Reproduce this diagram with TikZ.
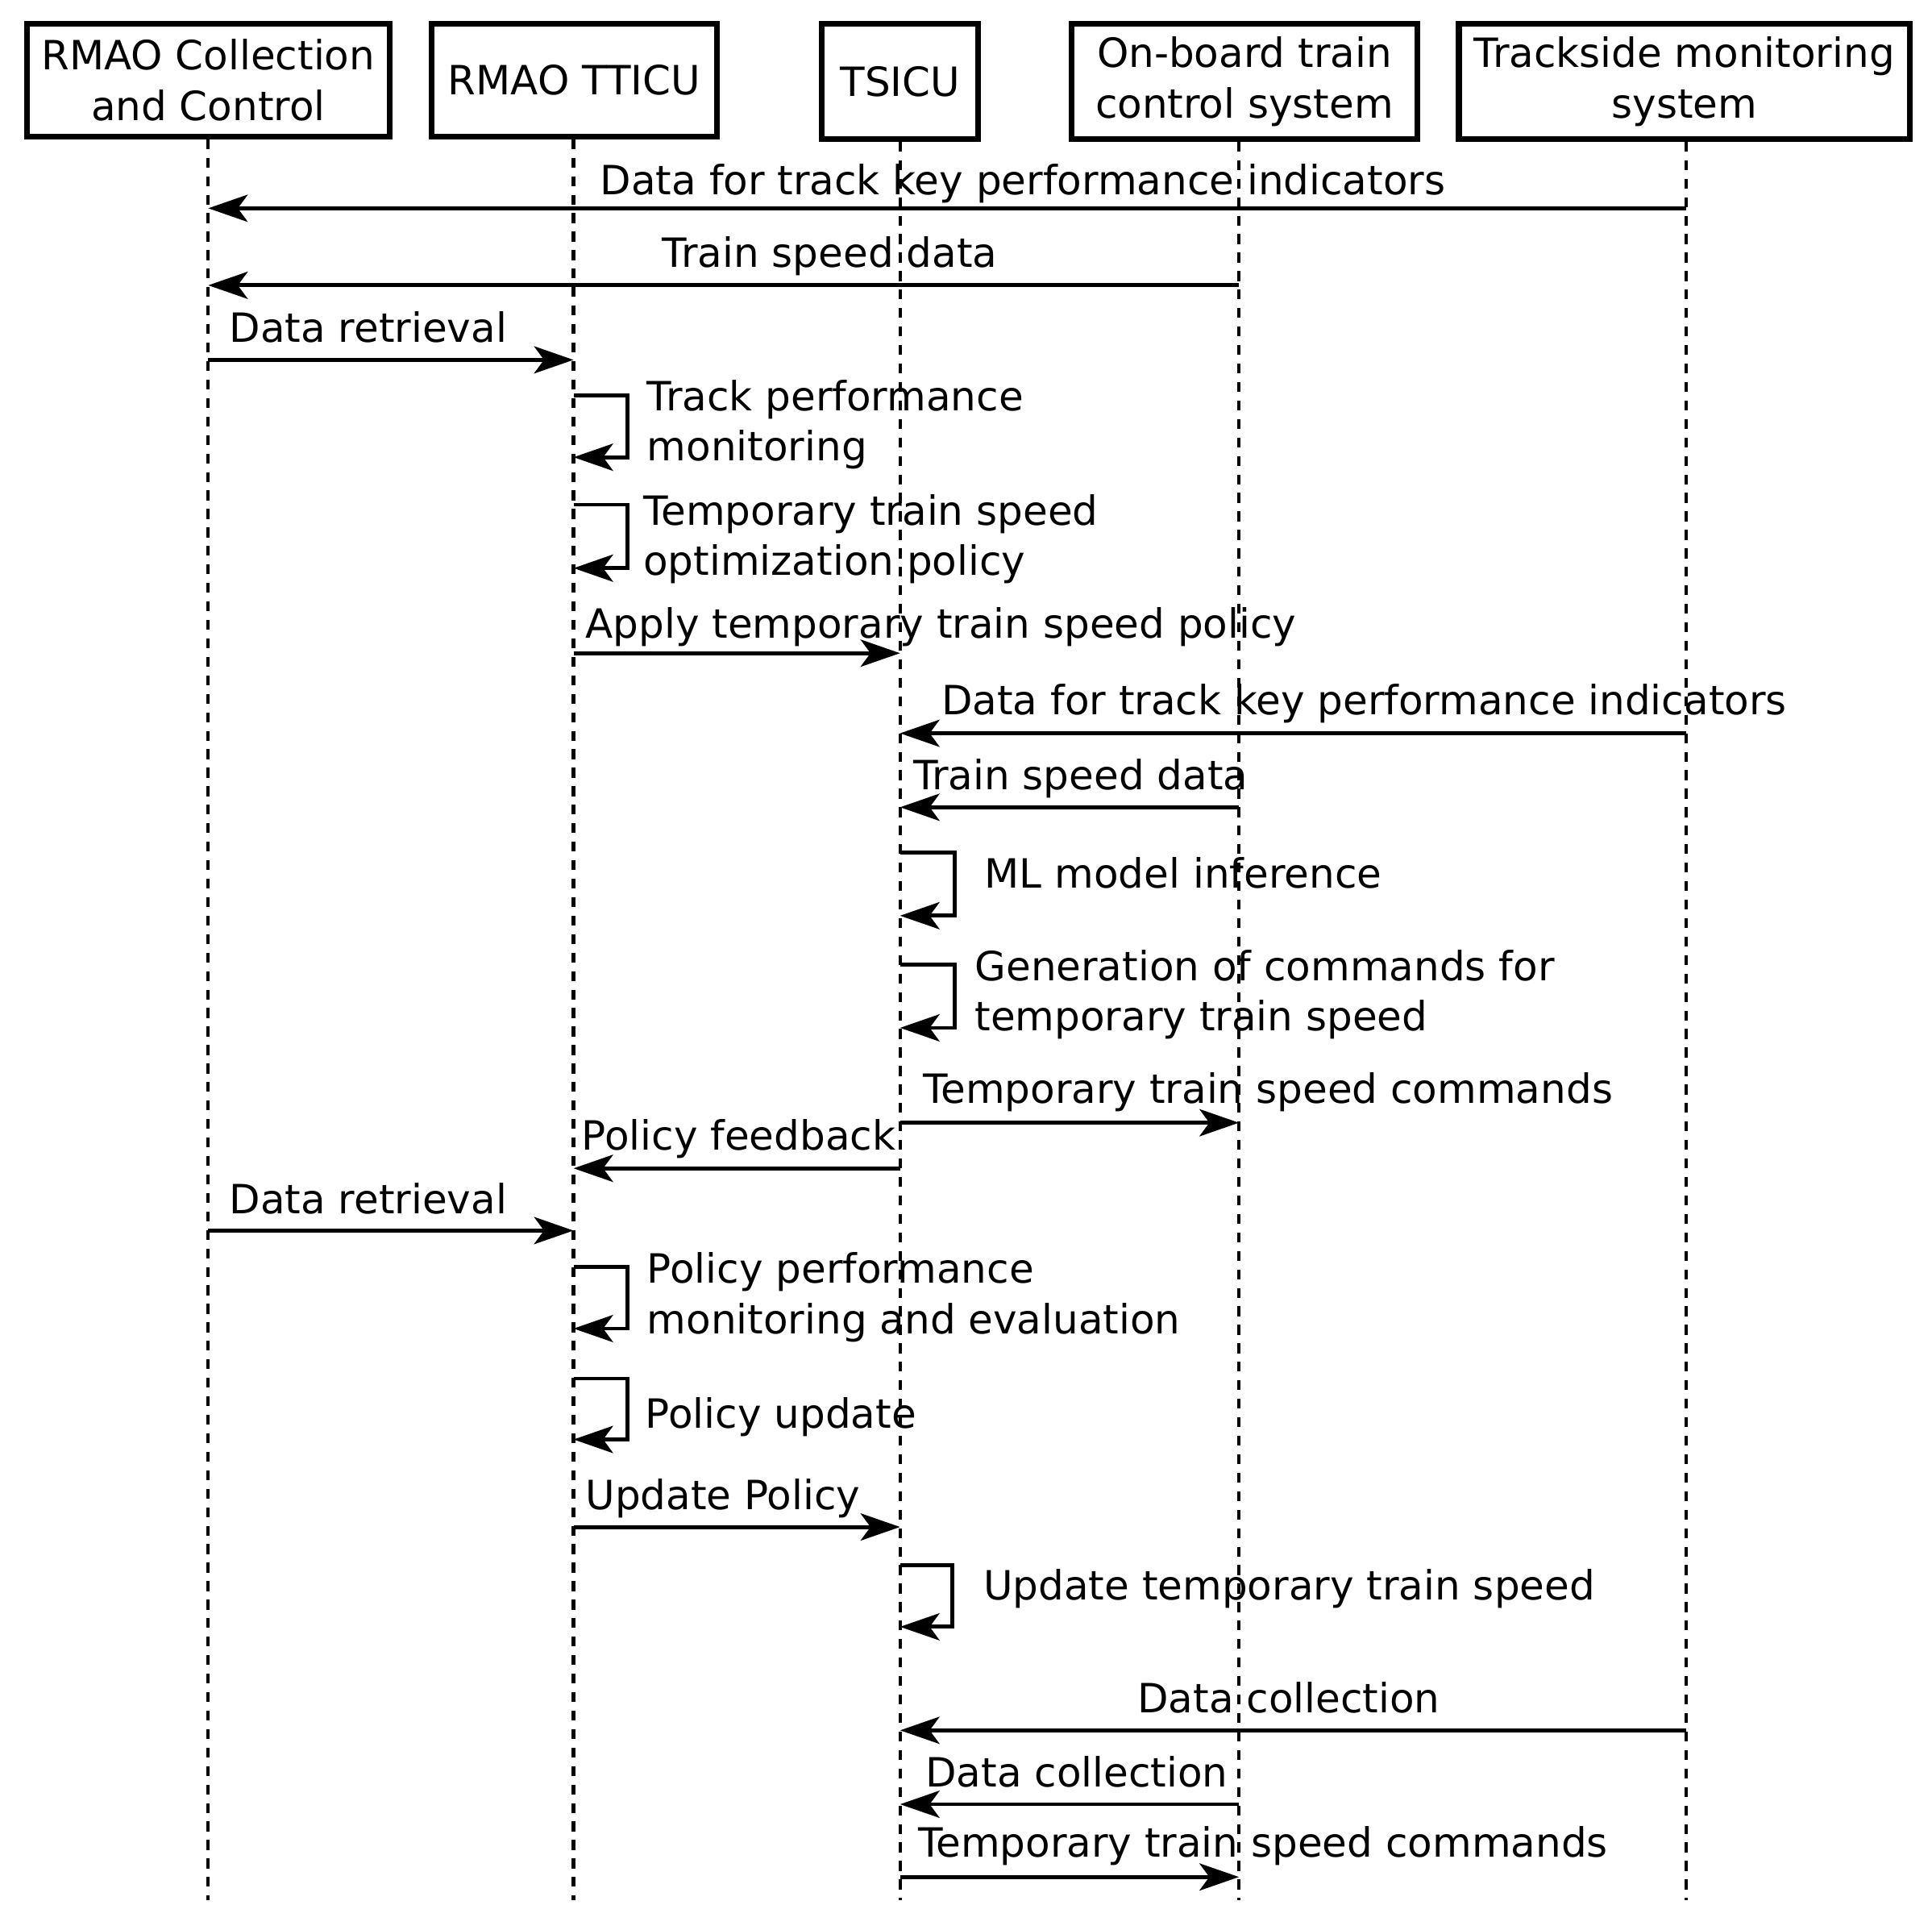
\documentclass[tikz,border=0pt]{standalone}
\usepackage{fontspec}
\setmainfont{DejaVu Sans}
\usetikzlibrary{arrows.meta}
\begin{document}
\begin{tikzpicture}[x=1pt,y=-1pt,
  txt/.style={font=\fontsize{32.7}{41}\selectfont},
  box/.style={draw,line width=4.6pt,inner sep=0pt,align=center,txt},
  life/.style={line width=2.8pt,dash pattern=on 8pt off 7pt},
  msg/.style={line width=3.2pt,-{Stealth[length=32pt,width=22pt,inset=8pt]}},
  lbl/.style={anchor=base west,inner sep=0pt,txt}]
\useasboundingbox (0,0) rectangle (1568,1566);
% participants
\node[box,minimum width=294pt,minimum height=92pt] (b1) at (169,65) {RMAO Collection\\and Control};
\node[box,minimum width=232pt,minimum height=92pt] (b2) at (466,65) {RMAO TTICU};
\node[box,minimum width=127pt,minimum height=94pt] (b3) at (730.5,66) {TSICU};
\node[box,minimum width=281pt,minimum height=94pt] (b4) at (1010,66) {On-board train\\control system};
\node[box,minimum width=366pt,minimum height=94pt] (b5) at (1367,66) {Trackside monitoring\\system};
% lifelines
\coordinate (t1) at (169,113);   \coordinate (e1) at (169,1542);
\coordinate (t2) at (465.5,113); \coordinate (e2) at (465.5,1542);
\coordinate (t3) at (730.5,115); \coordinate (e3) at (730.5,1542);
\coordinate (t4) at (1005.5,115);\coordinate (e4) at (1005.5,1542);
\coordinate (t5) at (1368.5,115);\coordinate (e5) at (1368.5,1542);
\foreach \i in {1,...,5} \draw[life] (t\i) -- (e\i);
% messages
\draw[msg] (t5 |- 0,169) -- (t1 |- 0,169);
\node[lbl] (m1) at (487,158) {Data for track key performance indicators};
\draw[msg] (t4 |- 0,231.5) -- (t1 |- 0,231.5);
\node[lbl] (m2) at (537.5,217) {Train speed data};
\draw[msg] (t1 |- 0,292) -- (t2 |- 0,292);
\node[lbl] (m3) at (186,278) {Data retrieval};
\draw[msg] (t2 |- 0,321) -- (509,321) -- (509,371) -- (t2 |- 0,371);
\node[lbl] (m4) at (525,333) {\begin{tabular}[t]{@{}l@{}}Track performance\\monitoring\end{tabular}};
\draw[msg] (t2 |- 0,409.5) -- (509,409.5) -- (509,461) -- (t2 |- 0,461);
\node[lbl] (m5) at (522,426) {\begin{tabular}[t]{@{}l@{}}Temporary train speed\\optimization policy\end{tabular}};
\draw[msg] (t2 |- 0,530) -- (t3 |- 0,530);
\node[lbl] (m6) at (475,518) {Apply temporary train speed policy};
\draw[msg] (t5 |- 0,595) -- (t3 |- 0,595);
\node[lbl] (m7) at (764,580) {Data for track key performance indicators};
\draw[msg] (t4 |- 0,655) -- (t3 |- 0,655);
\node[lbl] (m8) at (741,641) {Train speed data};
\draw[msg] (t3 |- 0,692) -- (775,692) -- (775,743) -- (t3 |- 0,743);
\node[lbl] (m9) at (799,720.5) {ML model inference};
\draw[msg] (t3 |- 0,782.5) -- (775,782.5) -- (775,834) -- (t3 |- 0,834);
\node[lbl] (m10) at (791,795.6) {\begin{tabular}[t]{@{}l@{}}Generation of commands for\\temporary train speed\end{tabular}};
\draw[msg] (t3 |- 0,911) -- (t4 |- 0,911);
\node[lbl] (m11) at (749,895) {Temporary train speed commands};
\draw[msg] (t3 |- 0,948) -- (t2 |- 0,948);
\node[lbl] (m12) at (472,933) {Policy feedback};
\draw[msg] (t1 |- 0,998.5) -- (t2 |- 0,998.5);
\node[lbl] (m13) at (186,985) {Data retrieval};
\draw[msg] (t2 |- 0,1028) -- (509,1028) -- (509,1078) -- (t2 |- 0,1078);
\node[lbl] (m14) at (525,1041) {\begin{tabular}[t]{@{}l@{}}Policy performance\\monitoring and evaluation\end{tabular}};
\draw[msg] (t2 |- 0,1118.6) -- (509,1118.6) -- (509,1168) -- (t2 |- 0,1168);
\node[lbl] (m15) at (523.7,1158.5) {Policy update};
\draw[msg] (t2 |- 0,1239) -- (t3 |- 0,1239);
\node[lbl] (m16) at (475,1225) {Update Policy};
\draw[msg] (t3 |- 0,1270) -- (773,1270) -- (773,1320) -- (t3 |- 0,1320);
\node[lbl] (m17) at (798,1298) {Update temporary train speed};
\draw[msg] (t5 |- 0,1404) -- (t3 |- 0,1404);
\node[lbl] (m18) at (923,1390) {Data collection};
\draw[msg] (t4 |- 0,1464) -- (t3 |- 0,1464);
\node[lbl] (m19) at (751,1450) {Data collection};
\draw[msg] (t3 |- 0,1523) -- (t4 |- 0,1523);
\node[lbl] (m20) at (745,1507) {Temporary train speed commands};
\end{tikzpicture}
\end{document}
